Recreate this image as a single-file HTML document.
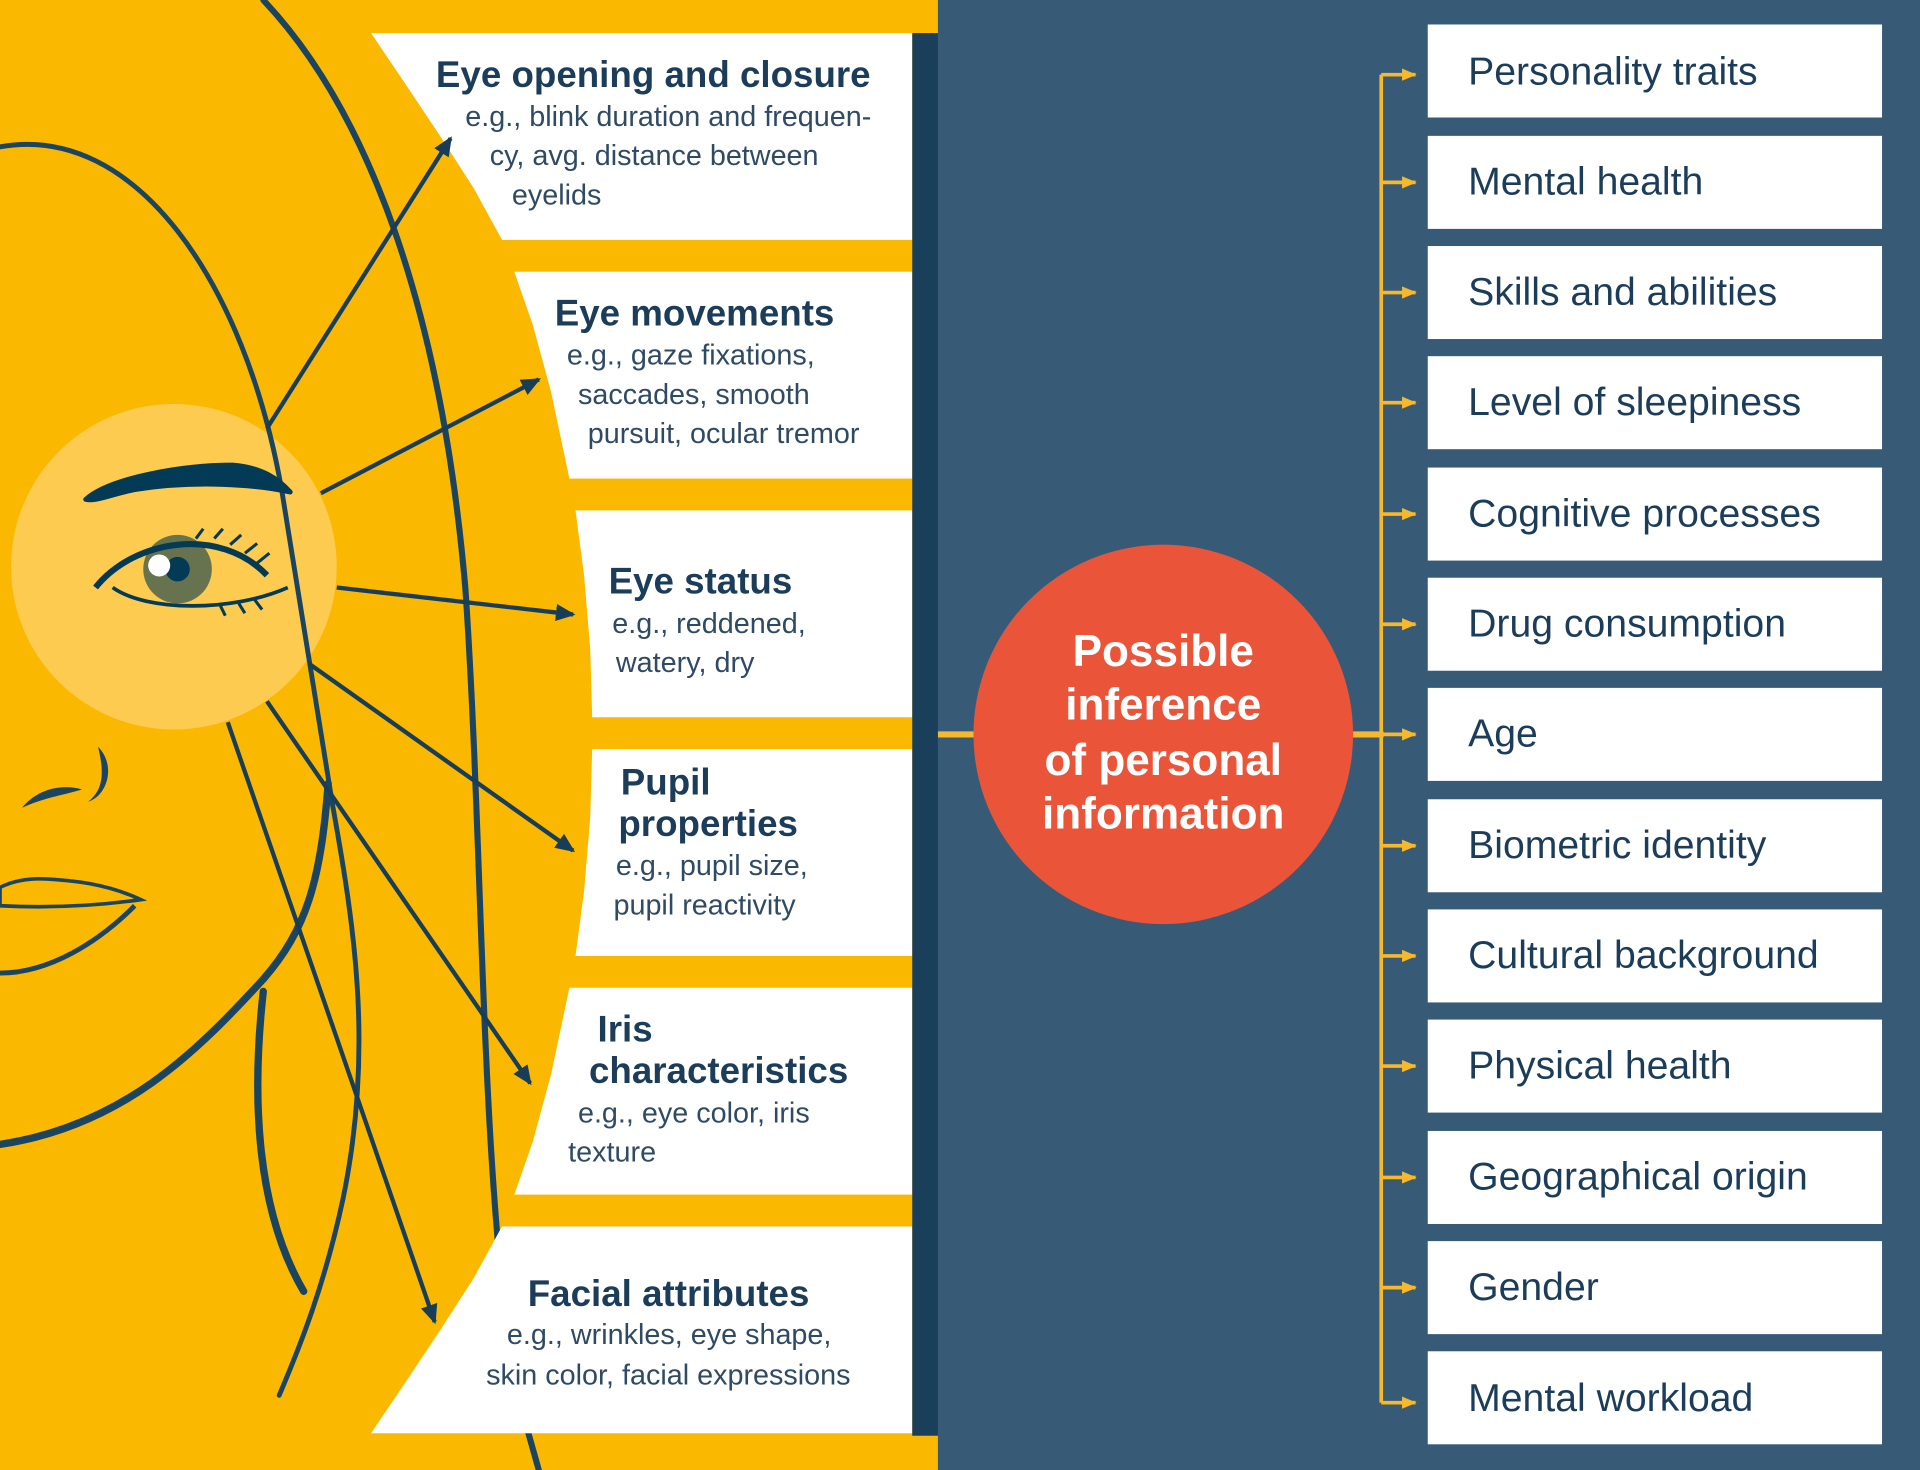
<!DOCTYPE html>
<html><head><meta charset="utf-8"><style>
html,body{margin:0;padding:0;background:#375a77;}
svg{display:block}
text{font-family:"Liberation Sans",sans-serif}
</style></head><body>
<svg width="1920" height="1470" viewBox="0 0 1568 1201" preserveAspectRatio="none" xmlns="http://www.w3.org/2000/svg">
<defs>
<clipPath id="cp"><path d="M290,0 L303,27 L330,67 L360,112 L387,154 L410,196 L420,222 L435,265 L450,320 L465,391 L470,417 L477,470 L482,530 L484,599 L482,668 L477,728 L470,781 L465,807 L450,878 L435,933 L420,976 L410,1002 L387,1044 L360,1086 L330,1131 L303,1171 L290,1201 L760,1201 L760,0 Z"/></clipPath>
<marker id="ah" markerWidth="16" markerHeight="14" refX="14" refY="7" orient="auto" markerUnits="userSpaceOnUse"><path d="M0,0 L16,7 L0,14 Z" fill="#173d58"/></marker>
<marker id="yh" markerWidth="12" markerHeight="10" refX="11" refY="5" orient="auto" markerUnits="userSpaceOnUse"><path d="M0,0 L12,5 L0,10 Z" fill="#f7b82b"/></marker>
</defs>
<rect x="0" y="0" width="766" height="1201" fill="#fbb800"/>
<rect x="766" y="0" width="802" height="1201" fill="#375a77"/>
<!-- face -->
<circle cx="142" cy="463" r="133" fill="#fdcb4f"/>
<g fill="none" stroke="#1b4461" stroke-linecap="round">
<path d="M215,0 C300,90 360,250 380,480 C395,700 392,950 420,1130 L440,1201" stroke-width="5"/>
<path d="M0,120 C110,100 200,230 230,400 C250,520 262,600 272,660 C290,760 305,860 280,980 C265,1050 245,1100 228,1140" stroke-width="4"/>
<path d="M268,640 C262,720 250,760 215,800 C160,860 100,920 0,935" stroke-width="6"/>
<path d="M215,810 C205,900 210,990 248,1055" stroke-width="6"/>
</g>
<g clip-path="url(#cp)" fill="#fff">
<rect x="0" y="27" width="745" height="169"/>
<rect x="0" y="222" width="745" height="169"/>
<rect x="0" y="417" width="745" height="169"/>
<rect x="0" y="612" width="745" height="169"/>
<rect x="0" y="807" width="745" height="169"/>
<rect x="0" y="1002" width="745" height="169"/>
</g>
<rect x="745" y="27" width="21" height="1146" fill="#1a3f5a"/>
<path d="M80,610 C95,625 88,650 72,655 C85,645 85,630 80,610 Z" fill="#1b4461"/>
<path d="M18,660 C30,645 50,640 67,645 C50,650 35,652 18,660 Z" fill="#1b4461"/>
<path d="M0,725 C20,715 40,718 60,720 C80,722 100,728 115,735 C80,740 40,742 0,740 Z" fill="none" stroke="#1b4461" stroke-width="3"/>
<path d="M0,795 C40,795 80,770 110,740" fill="none" stroke="#1b4461" stroke-width="4"/>
<!-- eye -->
<path d="M70,408 C90,390 150,380 190,380 C215,382 228,392 237,402 C210,396 160,392 110,400 C90,404 78,410 70,408 Z" fill="#033a55" stroke="#033a55" stroke-width="4" stroke-linejoin="round"/>
<circle cx="145" cy="465" r="28" fill="#67734f"/>
<circle cx="145" cy="465" r="10" fill="#033a55"/>
<circle cx="130" cy="462" r="9" fill="#fff"/>
<path d="M78,480 C110,440 180,430 218,470" fill="none" stroke="#033a55" stroke-width="5"/>
<path d="M92,480 C120,500 190,500 235,480" fill="none" stroke="#033a55" stroke-width="3"/>
<path d="M160,440 l6,-8 M175,440 l7,-8 M188,445 l9,-8 M200,452 l10,-8 M210,460 l10,-8 M180,495 l4,8 M195,493 l5,8 M208,490 l6,8" stroke="#033a55" stroke-width="2.5"/>
<!-- arrows -->
<g stroke="#173d58" stroke-width="3.5" marker-end="url(#ah)">
<line x1="218" y1="350" x2="368" y2="113"/>
<line x1="262" y1="403" x2="440" y2="310"/>
<line x1="275" y1="480" x2="468" y2="502"/>
<line x1="252" y1="542" x2="468" y2="695"/>
<line x1="218" y1="573" x2="433" y2="885"/>
<line x1="186" y1="590" x2="355" y2="1080"/>
</g>
<!-- panel text -->
<g fill="#1c3d5a">
<g font-weight="bold" font-size="30">
<text x="356" y="71">Eye opening and closure</text>
<text x="453" y="266">Eye movements</text>
<text x="497" y="485">Eye status</text>
<text x="507" y="649">Pupil</text>
<text x="505" y="683">properties</text>
<text x="488" y="851">Iris</text>
<text x="481" y="885">characteristics</text>
<text x="431" y="1067">Facial attributes</text>
</g>
<g font-size="23.5" fill="#2f4a63">
<text x="380" y="103">e.g., blink duration and frequen-</text>
<text x="400" y="135">cy, avg. distance between</text>
<text x="418" y="167">eyelids</text>
<text x="463" y="298">e.g., gaze fixations,</text>
<text x="472" y="330">saccades, smooth</text>
<text x="480" y="362">pursuit, ocular tremor</text>
<text x="500" y="517">e.g., reddened,</text>
<text x="503" y="549">watery, dry</text>
<text x="503" y="715">e.g., pupil size,</text>
<text x="501" y="747">pupil reactivity</text>
<text x="472" y="917">e.g., eye color, iris</text>
<text x="464" y="949">texture</text>
<text x="414" y="1098">e.g., wrinkles, eye shape,</text>
<text x="397" y="1131">skin color, facial expressions</text>
</g>
</g>
<!-- center -->
<line x1="766" y1="600" x2="800" y2="600" stroke="#f7b82b" stroke-width="5"/>
<line x1="1100" y1="600" x2="1130" y2="600" stroke="#f7b82b" stroke-width="5"/>
<circle cx="950" cy="600" r="155" fill="#ea553a"/>
<g fill="#fff" font-weight="bold" font-size="36" text-anchor="middle">
<text x="950" y="544">Possible</text>
<text x="950" y="588">inference</text>
<text x="950" y="633">of personal</text>
<text x="950" y="677">information</text>
</g>
<line x1="1128" y1="61" x2="1128" y2="1146" stroke="#f7b82b" stroke-width="3"/>
<g stroke="#f7b82b" stroke-width="3" marker-end="url(#yh)">
<line x1="1128" y1="61" x2="1156" y2="61"/>
<line x1="1128" y1="149" x2="1156" y2="149"/>
<line x1="1128" y1="239" x2="1156" y2="239"/>
<line x1="1128" y1="329" x2="1156" y2="329"/>
<line x1="1128" y1="420" x2="1156" y2="420"/>
<line x1="1128" y1="510" x2="1156" y2="510"/>
<line x1="1128" y1="600" x2="1156" y2="600"/>
<line x1="1128" y1="691" x2="1156" y2="691"/>
<line x1="1128" y1="781" x2="1156" y2="781"/>
<line x1="1128" y1="871" x2="1156" y2="871"/>
<line x1="1128" y1="962" x2="1156" y2="962"/>
<line x1="1128" y1="1052" x2="1156" y2="1052"/>
<line x1="1128" y1="1146" x2="1156" y2="1146"/>
</g>
<g fill="#fff">
<rect x="1166" y="20" width="371" height="76"/>
<rect x="1166" y="111" width="371" height="76"/>
<rect x="1166" y="201" width="371" height="76"/>
<rect x="1166" y="291" width="371" height="76"/>
<rect x="1166" y="382" width="371" height="76"/>
<rect x="1166" y="472" width="371" height="76"/>
<rect x="1166" y="562" width="371" height="76"/>
<rect x="1166" y="653" width="371" height="76"/>
<rect x="1166" y="743" width="371" height="76"/>
<rect x="1166" y="833" width="371" height="76"/>
<rect x="1166" y="924" width="371" height="76"/>
<rect x="1166" y="1014" width="371" height="76"/>
<rect x="1166" y="1104" width="371" height="76"/>
</g>
<g fill="#1c3d5a" font-size="32">
<text x="1199" y="69">Personality traits</text>
<text x="1199" y="159">Mental health</text>
<text x="1199" y="249">Skills and abilities</text>
<text x="1199" y="339">Level of sleepiness</text>
<text x="1199" y="430">Cognitive processes</text>
<text x="1199" y="520">Drug consumption</text>
<text x="1199" y="610">Age</text>
<text x="1199" y="701">Biometric identity</text>
<text x="1199" y="791">Cultural background</text>
<text x="1199" y="881">Physical health</text>
<text x="1199" y="972">Geographical origin</text>
<text x="1199" y="1062">Gender</text>
<text x="1199" y="1153">Mental workload</text>
</g>
</svg>
</body></html>
